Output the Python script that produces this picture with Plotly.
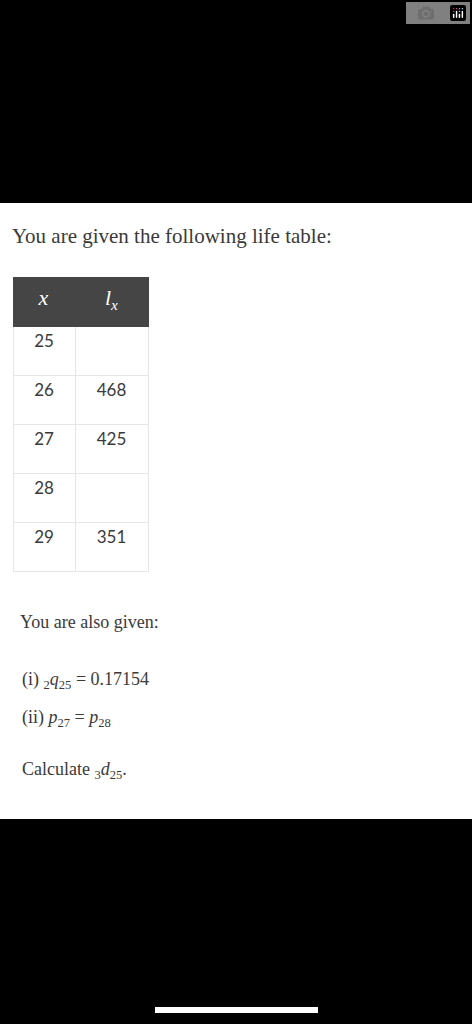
import plotly.graph_objects as go

# life table values (blank cells are unknown)
ages = ['25', '26', '27', '28', '29']
lx = ['', '468', '425', '', '351']
headers = ['<i>x</i>', '<i>l<sub>x</sub></i>']

W, H = 472, 1024
serif = 'Liberation Serif, DejaVu Serif, serif'
ink = '#3a3a3a'

def py(px):
    # pixel row from the top -> paper y
    return 1 - px / H

fig = go.Figure()

fig.add_trace(go.Table(
    domain=dict(x=[13 / W, 148 / W], y=[py(572), py(277)]),
    columnwidth=[62, 73],
    header=dict(values=headers, fill_color='#454545', line_color='#454545',
                font=dict(color='white', size=22, family=serif),
                align='center', height=49),
    cells=dict(values=[ages, lx], fill_color='white', line_color='#e6e6e6',
               font=dict(color=ink, size=17, family='Lato, sans-serif'),
               align='center', height=49),
))

# phone screen: black bands top and bottom, home indicator
fig.add_shape(type='rect', xref='paper', yref='paper', x0=0, x1=1, y0=py(203), y1=1,
              fillcolor='black', line_width=0, layer='below')
fig.add_shape(type='rect', xref='paper', yref='paper', x0=0, x1=1, y0=0, y1=py(819),
              fillcolor='black', line_width=0, layer='below')
fig.add_shape(type='line', xref='paper', yref='paper', x0=155 / W, x1=318 / W,
              y0=py(1010), y1=py(1010), line=dict(color='white', width=6))

texts = [
    ('You are given the following life table:', 10, 236, 21),
    ('You are also given:', 18, 622, 18),
    ('(i) <sub>2</sub><i>q</i><sub>25</sub> = 0.17154', 20, 680, 18),
    ('(ii) <i>p</i><sub>27</sub> = <i>p</i><sub>28</sub>', 20, 718, 18),
    ('Calculate <sub>3</sub><i>d</i><sub>25</sub>.', 20, 770, 18),
]
for t, x, y, s in texts:
    fig.add_annotation(text=t, x=x / W, y=py(y), xref='paper', yref='paper',
                       xanchor='left', yanchor='middle', showarrow=False,
                       font=dict(family=serif, size=s, color=ink))

fig.update_layout(width=W, height=H, margin=dict(l=0, r=0, t=0, b=0),
                  paper_bgcolor='white', plot_bgcolor='white',
                  xaxis=dict(visible=False), yaxis=dict(visible=False))

fig.write_html('out.html',
               post_script="document.body.style.margin='0';document.body.style.background='black';")
